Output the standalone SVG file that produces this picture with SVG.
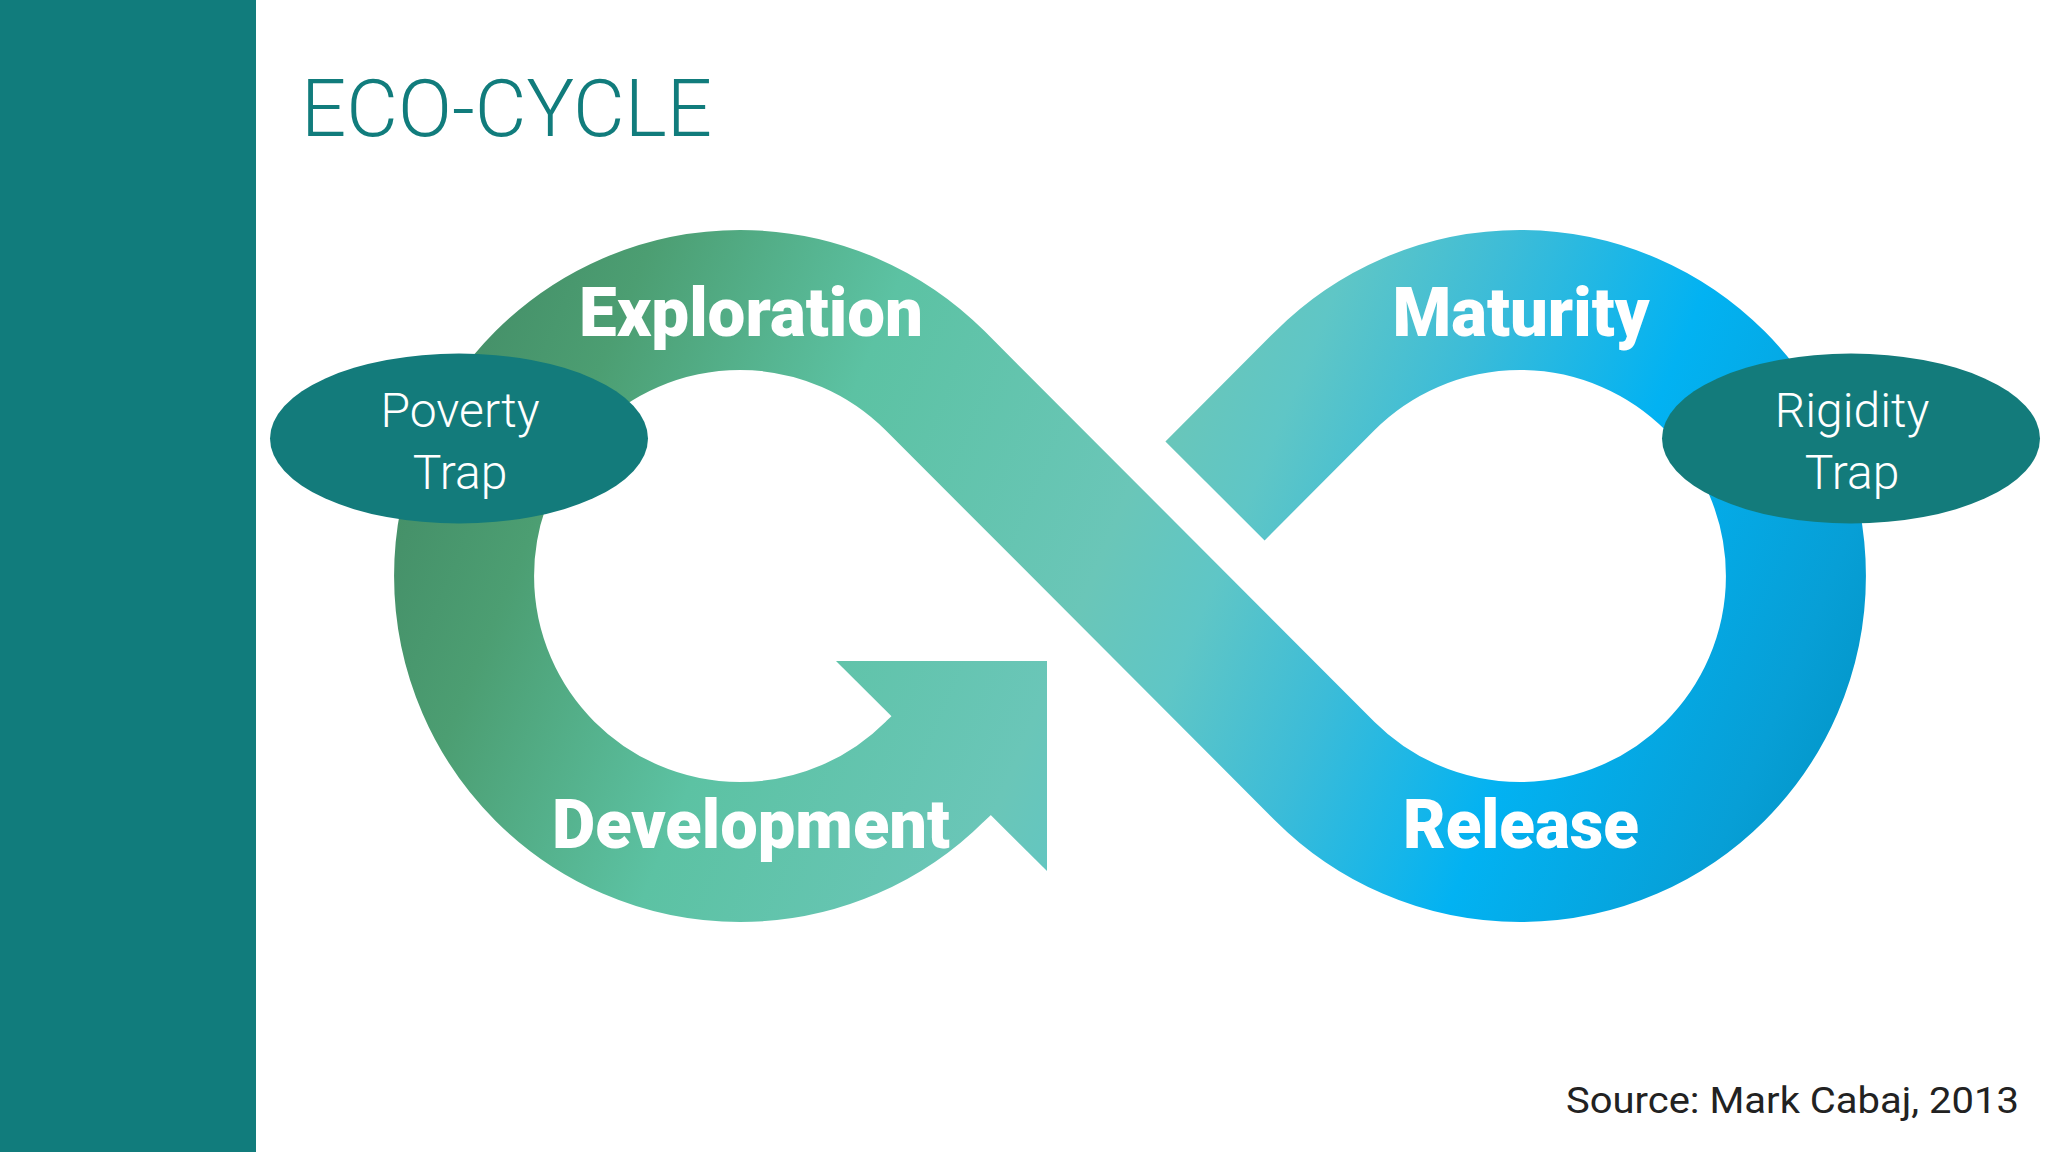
<svg xmlns="http://www.w3.org/2000/svg" width="2048" height="1152" viewBox="0 0 2048 1152">
  <style>
    .title { font-family: Roboto, "Liberation Sans", sans-serif; font-weight: 300; font-size: 80px; fill: #117c7c; }
    .phase { font-family: Roboto, "Liberation Sans", sans-serif; font-weight: 900; font-size: 68px; fill: #ffffff; text-anchor: middle; }
    .trap { fill: #137b7b; }
    .traptext { font-family: Roboto, "Liberation Sans", sans-serif; font-weight: 300; font-size: 48px; fill: #ffffff; text-anchor: middle; }
    .source { font-family: Roboto, "Liberation Sans", sans-serif; font-weight: 400; font-size: 37px; fill: #222222; text-anchor: end; }
  </style>
  <defs>
    <linearGradient id="bandGrad" gradientUnits="userSpaceOnUse" x1="393" y1="230" x2="1893" y2="854">
      <stop offset="0" stop-color="#3f8a5a"/>
      <stop offset="0.08" stop-color="#46926a"/>
      <stop offset="0.15" stop-color="#4c9e72"/>
      <stop offset="0.3" stop-color="#5cc2a3"/>
      <stop offset="0.48" stop-color="#6ac6b8"/>
      <stop offset="0.55" stop-color="#5fc6c6"/>
      <stop offset="0.64" stop-color="#3cbcd8"/>
      <stop offset="0.76" stop-color="#02b2f2"/>
      <stop offset="0.9" stop-color="#079fd6"/>
      <stop offset="1" stop-color="#008fbe"/>
    </linearGradient>
  </defs>
  <rect width="2048" height="1152" fill="#ffffff"/>
  <rect id="sidebar" x="0" y="0" width="256" height="1152" fill="#117c7c"/>
  <text id="title" class="title" x="301" y="136" textLength="411" lengthAdjust="spacingAndGlyphs">ECO-CYCLE</text>

  <g id="connectors">
    <path id="band" d="M 1215 491 L 1324.8 380.8 A 276 276 0 1 1 1324.8 771.2 L 935.2 380.8 A 276 276 0 1 0 935.2 771.2 L 944 763" fill="none" stroke="url(#bandGrad)" stroke-width="140" stroke-linecap="butt" stroke-linejoin="miter"/>
    <polygon id="arrowhead" points="836,661 1047,661 1047,871" fill="url(#bandGrad)"/>
  </g>

  <g id="exploration"><text class="phase" x="751" y="336" textLength="344" lengthAdjust="spacingAndGlyphs">Exploration</text></g>
  <g id="maturity"><text class="phase" x="1521" y="336" textLength="257" lengthAdjust="spacingAndGlyphs">Maturity</text></g>
  <g id="development"><text class="phase" x="751" y="848" textLength="398" lengthAdjust="spacingAndGlyphs">Development</text></g>
  <g id="release"><text class="phase" x="1521" y="848" textLength="236" lengthAdjust="spacingAndGlyphs">Release</text></g>

  <g id="poverty-trap">
    <ellipse class="trap" cx="459" cy="438.5" rx="189" ry="85"/>
    <text class="traptext" x="460" y="427">Poverty</text>
    <text class="traptext" x="460" y="489">Trap</text>
  </g>
  <g id="rigidity-trap">
    <ellipse class="trap" cx="1851" cy="438.5" rx="189" ry="85"/>
    <text class="traptext" x="1852" y="427">Rigidity</text>
    <text class="traptext" x="1852" y="489">Trap</text>
  </g>

  <text id="source" class="source" x="2019" y="1113" textLength="453" lengthAdjust="spacingAndGlyphs">Source: Mark Cabaj, 2013</text>
</svg>
